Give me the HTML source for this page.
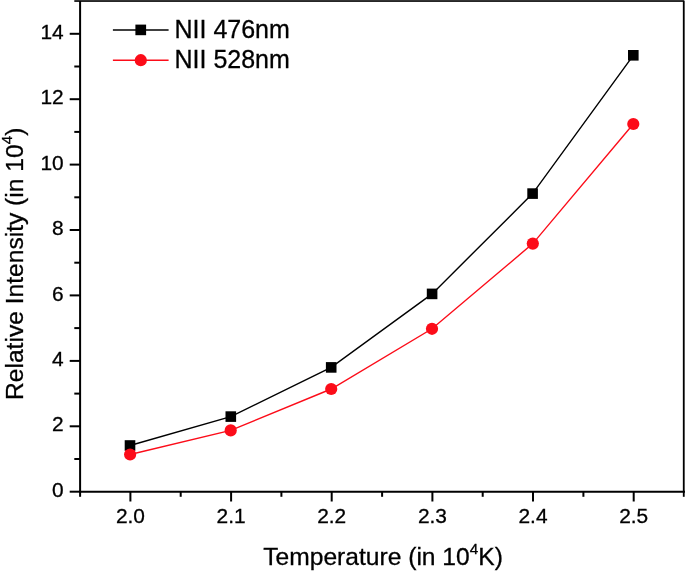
<!DOCTYPE html>
<html><head><meta charset="utf-8"><title>Relative Intensity vs Temperature</title>
<style>
html,body{margin:0;padding:0;background:#fff;}
body{width:685px;height:571px;overflow:hidden;}
svg{display:block;}
text{font-family:"Liberation Sans",Arial,Helvetica,sans-serif;fill:#000;stroke:#000;stroke-width:0.3px;}
.tk{font-size:20.9px;}
.ti{font-size:24.6px;}
.lg{font-size:25px;}
</style></head><body>
<svg width="685" height="571" viewBox="0 0 685 571">
<rect width="685" height="571" fill="#fff"/>

<polyline fill="none" stroke="#000" stroke-width="1.4" points="130.0,445.5 230.8,416.6 331.2,367.4 432.1,293.9 532.6,193.6 633.3,55.3"/>
<polyline fill="none" stroke="#fc0c19" stroke-width="1.4" points="130.1,454.5 230.7,430.4 331.2,389.0 432.0,328.8 532.8,243.6 633.3,124.0"/>
<rect x="124.7" y="440.2" width="10.6" height="10.6" fill="#000"/>
<rect x="225.5" y="411.3" width="10.6" height="10.6" fill="#000"/>
<rect x="325.9" y="362.1" width="10.6" height="10.6" fill="#000"/>
<rect x="426.8" y="288.6" width="10.6" height="10.6" fill="#000"/>
<rect x="527.3" y="188.3" width="10.6" height="10.6" fill="#000"/>
<rect x="628.0" y="50.0" width="10.6" height="10.6" fill="#000"/>
<circle cx="130.1" cy="454.5" r="6.1" fill="#fc0c19"/>
<circle cx="230.7" cy="430.4" r="6.1" fill="#fc0c19"/>
<circle cx="331.2" cy="389.0" r="6.1" fill="#fc0c19"/>
<circle cx="432.0" cy="328.8" r="6.1" fill="#fc0c19"/>
<circle cx="532.8" cy="243.6" r="6.1" fill="#fc0c19"/>
<circle cx="633.3" cy="124.0" r="6.1" fill="#fc0c19"/>
<g stroke="#000" stroke-width="2" fill="none" stroke-linecap="butt">
<line x1="80.1" y1="0" x2="80.1" y2="492.7"/>
<rect x="682.85" y="0" width="1.15" height="496.8" fill="#000" stroke="none"/>
<rect x="684" y="0" width="1" height="496.8" fill="#555" stroke="none"/>
<line x1="79.1" y1="491.7" x2="685.0" y2="491.7"/>
<rect x="74.3" y="0" width="610.7" height="1" fill="#333" stroke="none"/>
<rect x="74.3" y="1" width="609.7" height="0.85" fill="#000" stroke="none"/>
<rect x="684" y="0" width="1" height="1" fill="#bbb" stroke="none"/>
<line x1="69.7" y1="491.7" x2="80.1" y2="491.7"/>
<line x1="74.3" y1="459.0" x2="80.1" y2="459.0"/>
<line x1="69.7" y1="426.3" x2="80.1" y2="426.3"/>
<line x1="74.3" y1="393.6" x2="80.1" y2="393.6"/>
<line x1="69.7" y1="360.9" x2="80.1" y2="360.9"/>
<line x1="74.3" y1="328.1" x2="80.1" y2="328.1"/>
<line x1="69.7" y1="295.4" x2="80.1" y2="295.4"/>
<line x1="74.3" y1="262.7" x2="80.1" y2="262.7"/>
<line x1="69.7" y1="230.0" x2="80.1" y2="230.0"/>
<line x1="74.3" y1="197.3" x2="80.1" y2="197.3"/>
<line x1="69.7" y1="164.6" x2="80.1" y2="164.6"/>
<line x1="74.3" y1="131.9" x2="80.1" y2="131.9"/>
<line x1="69.7" y1="99.2" x2="80.1" y2="99.2"/>
<line x1="74.3" y1="66.5" x2="80.1" y2="66.5"/>
<line x1="69.7" y1="33.8" x2="80.1" y2="33.8"/>
<line x1="80.1" y1="491.7" x2="80.1" y2="496.8"/>
<line x1="130.4" y1="491.7" x2="130.4" y2="501.5"/>
<line x1="180.7" y1="491.7" x2="180.7" y2="496.8"/>
<line x1="231.1" y1="491.7" x2="231.1" y2="501.5"/>
<line x1="281.4" y1="491.7" x2="281.4" y2="496.8"/>
<line x1="331.7" y1="491.7" x2="331.7" y2="501.5"/>
<line x1="382.1" y1="491.7" x2="382.1" y2="496.8"/>
<line x1="432.4" y1="491.7" x2="432.4" y2="501.5"/>
<line x1="482.7" y1="491.7" x2="482.7" y2="496.8"/>
<line x1="533.0" y1="491.7" x2="533.0" y2="501.5"/>
<line x1="583.4" y1="491.7" x2="583.4" y2="496.8"/>
<line x1="633.7" y1="491.7" x2="633.7" y2="501.5"/>
</g>
<text class="tk" x="63.7" y="496.8" text-anchor="end">0</text>
<text class="tk" x="63.7" y="431.4" text-anchor="end">2</text>
<text class="tk" x="63.7" y="366.0" text-anchor="end">4</text>
<text class="tk" x="63.7" y="300.5" text-anchor="end">6</text>
<text class="tk" x="63.7" y="235.1" text-anchor="end">8</text>
<text class="tk" x="63.7" y="169.7" text-anchor="end">10</text>
<text class="tk" x="63.7" y="104.3" text-anchor="end">12</text>
<text class="tk" x="63.7" y="38.9" text-anchor="end">14</text>
<text class="tk" x="130.4" y="523.1" text-anchor="middle">2.0</text>
<text class="tk" x="231.1" y="523.1" text-anchor="middle">2.1</text>
<text class="tk" x="331.7" y="523.1" text-anchor="middle">2.2</text>
<text class="tk" x="432.4" y="523.1" text-anchor="middle">2.3</text>
<text class="tk" x="533.0" y="523.1" text-anchor="middle">2.4</text>
<text class="tk" x="633.7" y="523.1" text-anchor="middle">2.5</text>
<line x1="112.9" y1="30" x2="168.6" y2="30" stroke="#000" stroke-width="1.3"/>
<rect x="135.4" y="24.6" width="10.7" height="10.6" fill="#000"/>
<line x1="112.9" y1="60.25" x2="168.6" y2="60.25" stroke="#fc0c19" stroke-width="1.5"/>
<circle cx="140.8" cy="60.2" r="6.1" fill="#fc0c19"/>
<text class="lg" x="174.5" y="38">NII 476nm</text>
<text class="lg" x="174.5" y="68">NII 528nm</text>
<text class="ti" x="263.3" y="564.5">Temperature (in 10<tspan font-size="15.3" dy="-10.8">4</tspan><tspan dy="10.8">K)</tspan></text>
<text class="ti" transform="translate(22.5,400) rotate(-90)">Relative Intensity (in 10<tspan font-size="15.3" dy="-10.8">4</tspan><tspan dy="10.8">)</tspan></text>
</svg></body></html>
